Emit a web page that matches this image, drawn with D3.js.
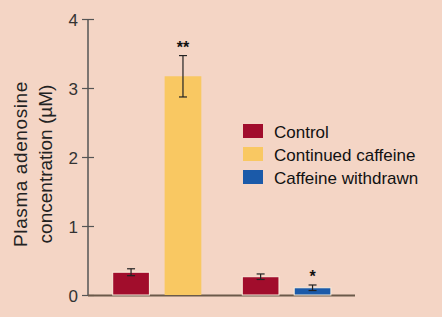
<!DOCTYPE html>
<html><head><meta charset="utf-8">
<script src="https://cdn.jsdelivr.net/npm/d3@7"></script>
<style>html,body{margin:0;padding:0;background:#f4d5c5;}svg{display:block;}</style>
</head><body>
<svg id="c" width="442" height="317"></svg>
<script>
const groups = ["g1", "g2"];
const series = ["Control", "Continued caffeine", "Caffeine withdrawn"];
const colors = ["#a10d2c", "#f9c862", "#1b5aa9"];
const barGroup = ["g1", "g1", "g2", "g2"];
const barSeries = ["Control", "Continued caffeine", "Control", "Caffeine withdrawn"];
const barValues = [0.33, 3.17, 0.265, 0.105];
const barErrors = [0.05, 0.30, 0.04, 0.04];
const barStars = ["", "**", "", "*"];
const yTicks = [0, 1, 2, 3, 4];

const FONT = "Liberation Sans, Arial, sans-serif";
const svg = d3.select("#c");
svg.append("rect").attr("width",442).attr("height",317).attr("fill","#f4d5c5");

const y = d3.scaleLinear().domain([0,4]).range([295,19]);
const xGroup = d3.scaleBand().domain(groups).range([112.7,330.9]).paddingInner(0.316).paddingOuter(0);
const xSub = d3.scaleBand().domain([0,1]).range([0, xGroup.bandwidth()]).paddingInner(0.293).paddingOuter(0);
const color = d3.scaleOrdinal().domain(series).range(colors);

// axis
const yAxis = d3.axisLeft(y).tickValues(yTicks).tickSize(0).tickPadding(10).tickFormat(d3.format("d"));
const ga = svg.append("g").attr("transform","translate(88,0)").call(yAxis);
ga.select(".domain").remove();
ga.selectAll("text").attr("font-family",FONT).attr("font-size",17).attr("fill","#333").attr("dy","0.36em");
ga.selectAll(".tick").append("line").attr("x1",-6).attr("x2",6).attr("stroke","#555").attr("stroke-width",1.2);
svg.append("line").attr("x1",88).attr("x2",88).attr("y1",y(4)).attr("y2",y(0)).attr("stroke","#555").attr("stroke-width",1.5);
svg.append("line").attr("x1",88).attr("x2",355).attr("y1",y(0)+0.5).attr("y2",y(0)+0.5).attr("stroke","#6b5a4a").attr("stroke-width",2);

// bars
const idxInGroup = [0,1,0,1];
const bw = xSub.bandwidth();
const bars = svg.append("g");
barValues.forEach((v,i)=>{
  const x0 = xGroup(barGroup[i]) + xSub(idxInGroup[i]);
  bars.append("rect").attr("x",x0).attr("y",y(v)).attr("width",bw).attr("height",y(0)-y(v))
    .attr("fill",color(barSeries[i]))
    .attr("stroke", barSeries[i]==="Continued caffeine" ? "none" : "#fbeedd").attr("stroke-width",1);
  const cx = x0 + bw/2;
  const e = barErrors[i];
  const g = bars.append("g").attr("stroke","#222").attr("stroke-width",1.2);
  g.append("line").attr("x1",cx).attr("x2",cx).attr("y1",y(v+e)).attr("y2",y(v-e));
  g.append("line").attr("x1",cx-4).attr("x2",cx+4).attr("y1",y(v+e)).attr("y2",y(v+e));
  g.append("line").attr("x1",cx-4).attr("x2",cx+4).attr("y1",y(v-e)).attr("y2",y(v-e));
  if (barStars[i]) {
    bars.append("text").attr("x",cx).attr("y",y(v+e)-3).attr("text-anchor","middle")
      .attr("font-family",FONT).attr("font-size",16).attr("font-weight","bold").attr("fill","#111")
      .text(barStars[i]);
  }
});

// legend
const lg = svg.append("g").attr("transform","translate(243,124)");
series.forEach((s,i)=>{
  const row = lg.append("g").attr("transform",`translate(0,${i*23})`);
  row.append("rect").attr("width",20).attr("height",14).attr("fill",color(s));
  row.append("text").attr("x",31).attr("y",13.5).attr("font-family",FONT)
    .attr("font-size",17).attr("fill","#111").text(s);
});

// y label
const yl = svg.append("text").attr("transform","translate(0,164) rotate(-90)")
  .attr("text-anchor","middle").attr("font-family",FONT).attr("font-size",19).attr("fill","#222");
yl.append("tspan").attr("x",0).attr("y",27).attr("letter-spacing","0.6px").text("Plasma adenosine");
yl.append("tspan").attr("x",0).attr("y",51.5).text("concentration (\u00B5M)");
</script>
</body></html>
